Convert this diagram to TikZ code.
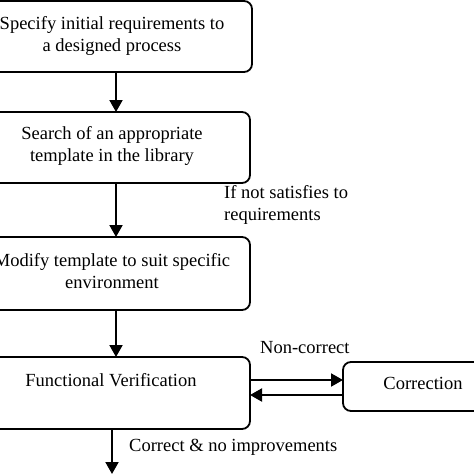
\documentclass[tikz,border=0pt]{standalone}
\usepackage{fontspec}
\setmainfont{Liberation Serif}
\usetikzlibrary{arrows.meta}
\begin{document}
\begin{tikzpicture}[x=1pt,y=-1pt,
  stepbox/.style={draw=black,line width=1.8pt,rounded corners=8pt},
  txt/.style={font=\fontsize{18.5}{22}\selectfont,align=center,inner sep=0pt},
  arr/.style={line width=2pt,-{Triangle[length=12pt,width=13pt]}}]
\useasboundingbox (0,0) rectangle (474,474);
\fill[white] (0,0) rectangle (474,474);
\begin{scope}
\clip (0,0) rectangle (474,474);
\draw[stepbox] (-28,1) rectangle (252,72);
\draw[stepbox] (-28,112) rectangle (250,183);
\draw[stepbox] (-28,237) rectangle (250,310);
\draw[stepbox] (-28,357) rectangle (250,429);
\draw[stepbox] (343,362) rectangle (520,411);
\end{scope}
\node[txt] (t1) at (112,36) {Specify initial requirements to\\a designed process};
\node[txt] (t2) at (112,146) {Search of an appropriate\\template in the library};
\node[txt] (t3) at (112,271) {Modify template to suit specific\\environment};
\node[txt] (t4) at (111,380) {Functional Verification};
\node[txt] (t5) at (423,383) {Correction};
\node[txt,align=left,anchor=west] (l1) at (224,205) {If not satisfies to\\requirements};
\node[txt,anchor=west] (l2) at (260,348) {Non-correct};
\node[txt,anchor=west] (l3) at (129,447) {Correct \& no improvements};
\coordinate (a1s) at (116,72); \coordinate (a1e) at (116,112);
\coordinate (a2s) at (116,183); \coordinate (a2e) at (116,237);
\coordinate (a3s) at (116,310); \coordinate (a3e) at (116,357);
\coordinate (a4s) at (250,380); \coordinate (a4e) at (343,380);
\coordinate (a5s) at (343,395); \coordinate (a5e) at (250,395);
\coordinate (a6s) at (112,429); \coordinate (a6e) at (112,474);
\draw[arr] (a1s) -- (a1e);
\draw[arr] (a2s) -- (a2e);
\draw[arr] (a3s) -- (a3e);
\draw[arr] (a4s) -- (a4e);
\draw[arr] (a5s) -- (a5e);
\draw[arr] (a6s) -- (a6e);
\end{tikzpicture}
\end{document}
